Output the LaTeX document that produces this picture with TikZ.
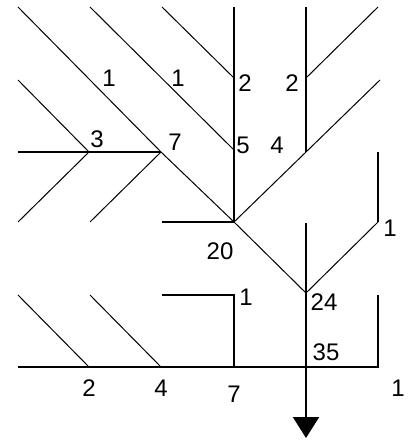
\documentclass[tikz,border=0pt]{standalone}
\usepackage{fontspec}
\setmainfont{Liberation Sans}
\usetikzlibrary{arrows.meta}
\begin{document}
\begin{tikzpicture}[x=1pt,y=-1pt,
  thin line/.style={line width=1pt},
  thick line/.style={line width=2pt},
  lbl/.style={inner sep=0pt,font=\fontsize{24}{24}\selectfont}]
\useasboundingbox (0,0) rectangle (409,443);
% junctions
\coordinate (A) at (89,152);
\coordinate (B) at (161,152);
\coordinate (C) at (234,222);
\coordinate (D) at (306,293);
\coordinate (O) at (306,367);
\coordinate (P2) at (234,78);
\coordinate (P5) at (234,150);
\coordinate (Q2) at (306,78);
\coordinate (Q4) at (306,152);
% free ends
\coordinate (t1) at (18,7);
\coordinate (t2) at (90,7);
\coordinate (t3) at (162,7);
\coordinate (t4) at (234,7);
\coordinate (t5) at (306,7);
\coordinate (t6) at (378,7);
\coordinate (l1) at (18,80);
\coordinate (l2) at (18,152);
\coordinate (l3) at (18,222);
\coordinate (l4) at (90,222);
\coordinate (r1) at (380,80);
\coordinate (h20) at (162,222);
\coordinate (rt1) at (378,152);
\coordinate (rb1) at (378,222);
\coordinate (Dtop) at (306,223);
\coordinate (tip) at (306,438);
% bottom
\coordinate (b0) at (18,367);
\coordinate (b2) at (89,367);
\coordinate (b4) at (161,367);
\coordinate (b7) at (234,367);
\coordinate (bR) at (378,367);
\coordinate (s2) at (18,295);
\coordinate (s4) at (90,295);
\coordinate (k1) at (162,295);
\coordinate (k2) at (234,295);
\coordinate (rt2) at (378,295);
% thin diagonals
\draw[thin line] (t1) -- (B) -- (C) -- (D);
\draw[thin line] (t2) -- (P5);
\draw[thin line] (t3) -- (P2);
\draw[thin line] (t6) -- (Q2);
\draw[thin line] (r1) -- (Q4) -- (C);
\draw[thin line] (l1) -- (A);
\draw[thin line] (l3) -- (A);
\draw[thin line] (l4) -- (B);
\draw[thin line] (rb1) -- (D);
\draw[thin line] (s2) -- (b2);
\draw[thin line] (s4) -- (b4);
% thick straight lines
\draw[thick line] (l2) -- (A) -- (B);
\draw[thick line] (t4) -- (C);
\draw[thick line] (t5) -- (Q4);
\draw[thick line] (h20) -- (C);
\draw[thick line] (rt1) -- (rb1);
\draw[thick line] (b0) -- (bR) -- (rt2);
\draw[thick line] (k1) -- (k2) -- (b7);
\draw[thick line,-{Triangle[width=26pt,length=21pt]}] (Dtop) -- (tip);
% labels
\node[lbl] (n1a) at (109,78) {1};
\node[lbl] (n1b) at (178,78) {1};
\node[lbl] (n2a) at (245,83) {2};
\node[lbl] (n2b) at (292,83) {2};
\node[lbl] (n3) at (97,139) {3};
\node[lbl] (n7) at (175,142) {7};
\node[lbl] (n5) at (243,145) {5};
\node[lbl] (n4) at (277,145) {4};
\node[lbl] (n1c) at (390,228) {1};
\node[lbl] (n20) at (220,251) {20};
\node[lbl] (n1d) at (246,297) {1};
\node[lbl] (n24) at (324,302) {24};
\node[lbl] (n35) at (326,352) {35};
\node[lbl] (nb2) at (89,388) {2};
\node[lbl] (nb4) at (161,388) {4};
\node[lbl] (nb7) at (234,394) {7};
\node[lbl] (nb1) at (398,388) {1};
\end{tikzpicture}
\end{document}
